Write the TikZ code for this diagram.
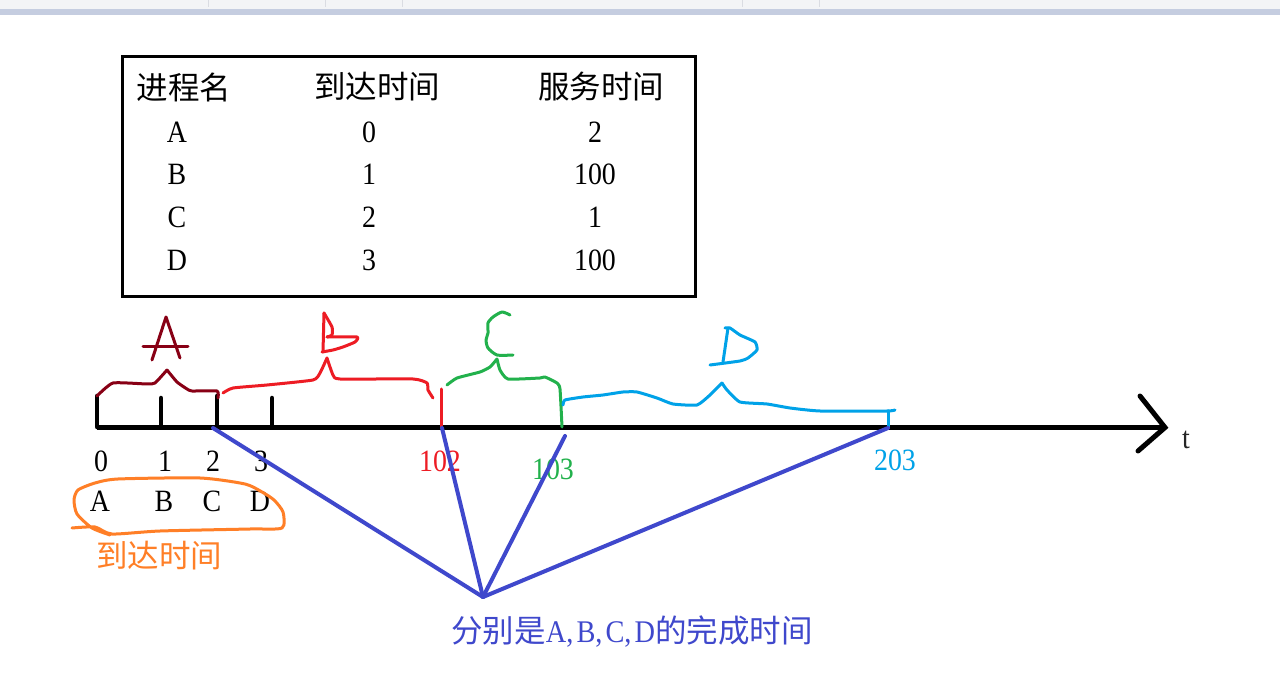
\documentclass[tikz,border=0pt]{standalone}
\usepackage{fontspec}
\newfontfamily\cjk{Noto Sans CJK SC}
\newfontfamily\lat[FakeStretch=0.9]{Liberation Serif}
\definecolor{topgray}{RGB}{243,244,246}
\definecolor{topblue}{RGB}{197,205,224}
\definecolor{sepgray}{RGB}{218,220,226}
\definecolor{darkred}{RGB}{136,0,21}
\definecolor{pred}{RGB}{237,28,36}
\definecolor{pgreen}{RGB}{34,177,76}
\definecolor{pblue}{RGB}{0,162,232}
\definecolor{porange}{RGB}{255,127,39}
\definecolor{indigo}{RGB}{63,72,204}
\tikzset{
  hand/.style={line width=3pt, line cap=round, line join=round},
  axtick/.style={line width=4.5pt, line cap=round},
  lab/.style={font=\lat\fontsize{31}{36}\selectfont, inner sep=0pt},
  cj/.style={font=\cjk\fontsize{31.5}{37}\selectfont, inner sep=0pt},
  done/.style={indigo, line width=4pt, line cap=round},
}
\begin{document}
\begin{tikzpicture}[x=1pt,y=-1pt]
\useasboundingbox (0,0) rectangle (1280,700);
\fill[white] (0,0) rectangle (1280,700);
% top window strip
\fill[topgray] (0,0) rectangle (1280,9);
\fill[topblue] (0,9) rectangle (1280,15);
\foreach \x in {208,325,402,742,819} \draw[sepgray, line width=1pt] (\x,0) -- (\x,7);

% table
\draw[line width=3pt] (122,57) rectangle (695,297);
\node[cj] (h1) at (184,87) {进程名};
\node[cj] (h2) at (377,87) {到达时间};
\node[cj] (h3) at (601,87) {服务时间};
\node[lab] (nA) at (177,132) {A};
\node[lab] (aA) at (369,132) {0};
\node[lab] (sA) at (595,132) {2};
\node[lab] (nB) at (177,174) {B};
\node[lab] (aB) at (369,174) {1};
\node[lab] (sB) at (595,174) {100};
\node[lab] (nC) at (177,217) {C};
\node[lab] (aC) at (369,217) {2};
\node[lab] (sC) at (595,217) {1};
\node[lab] (nD) at (177,260) {D};
\node[lab] (aD) at (369,260) {3};
\node[lab] (sD) at (595,260) {100};

% time axis
\coordinate (ax0) at (97,427.5);
\coordinate (axend) at (1165,427.5);
\draw[line width=5pt] (ax0) -- (axend);
\draw[line width=5pt, line cap=round] (1140,396) -- (axend) -- (1138,451);
\node[lab, text=black!85] (t) at (1186,440) {t};
\draw[axtick] (97,396) -- (97,427);
\draw[axtick] (161,398) -- (161,427);
\draw[axtick] (217,396) -- (217,427);
\draw[axtick] (272,398) -- (272,427);

% braces
\draw[hand, darkred] plot[smooth, tension=0.3] coordinates {(97,396) (113,383) (147,384) (155,383) (167,370)};
\draw[hand, darkred] plot[smooth, tension=0.3] coordinates {(167,370) (177,382) (187,389) (192,391) (217,391) (218,398)};
\draw[hand, darkred] (152,360) -- (166,317) -- (180,358);
\draw[hand, darkred] (143,347) -- (188,347);

\draw[hand, pred] plot[smooth, tension=0.3] coordinates {(223,393) (233,388) (267,385) (313,380) (320,373) (327,358)};
\draw[hand, pred] plot[smooth, tension=0.3] coordinates {(327,358) (333,375) (340,379) (413,379) (427,383) (428,390) (433,398)};
\draw[hand, pred] (324,313) -- (323,352);
\draw[hand, pred] plot[smooth, tension=0.3] coordinates {(324,313) (332,327) (332,335) (327,337)};
\draw[hand, pred] plot[smooth, tension=0.3] coordinates {(327,337) (357,337) (355,342) (343,347) (333,350) (322,352)};
\draw[hand, pred] (441,389) -- (441,427);

\draw[hand, pgreen] plot[smooth, tension=0.3] coordinates {(447,385) (457,378) (480,372) (490,367) (497,359)};
\draw[hand, pgreen] plot[smooth, tension=0.3] coordinates {(497,359) (500,370) (508,379) (540,378) (545,377) (557,383) (560,389) (562,427)};
\draw[hand, pgreen] plot[smooth, tension=0.4] coordinates {(510,315) (502,312) (493,317) (488,323) (488,333) (486,340) (488,348) (497,355) (513,355)};

\draw[hand, pblue] plot[smooth, tension=0.3] coordinates {(563,405) (565,400) (583,397) (603,395) (623,392) (637,392) (657,398) (673,404) (697,405) (710,395) (722,383)};
\draw[hand, pblue] plot[smooth, tension=0.3] coordinates {(722,383) (727,390) (740,402) (767,404) (790,408) (820,411) (887,411) (895,410)};
\draw[hand, pblue] (888,411) -- (888,427);
\draw[hand, pblue] (723,362) -- (728,328);
\draw[hand, pblue] plot[smooth, tension=0.3] coordinates {(725,328) (730,328) (740,335) (755,342) (757,350) (748,358) (740,361) (710,365)};

% axis labels
\node[lab] (l0) at (101,461) {0};
\node[lab] (l1) at (165,461) {1};
\node[lab] (l2) at (213,461) {2};
\node[lab] (l3) at (261,461) {3};
\node[lab] (pa) at (100,501) {A};
\node[lab] (pb) at (164,501) {B};
\node[lab] (pc) at (212,501) {C};
\node[lab] (pd) at (260,501) {D};
\node[lab, text=pred] (t102) at (440,461) {102};
\node[lab, text=pgreen] (t103) at (553,469) {103};
\node[lab, text=pblue] (t203) at (895,460) {203};

% orange loop
\draw[hand, porange] plot[smooth, tension=0.4] coordinates {(72,528) (95,527) (112,534) (160,531) (250,529) (282,528) (283,512) (274,500) (262,492) (245,484) (200,478) (118,479) (95,483) (78,490) (74,500) (77,514) (92,528) (110,535)};
\node[cj, text=porange] (arr) at (159,556) {到达时间};

% completion connectors
\coordinate (conv) at (483,597);
\coordinate (fA) at (213,428);
\coordinate (fB) at (442,428);
\coordinate (fC) at (565,436);
\coordinate (fD) at (888,428);
\draw[done] (fA) -- (conv);
\draw[done] (fB) -- (conv);
\draw[done] (fC) -- (conv);
\draw[done] (fD) -- (conv);
\node[cj, text=indigo] (note) at (632,632) {分别是{\lat A,\kern3pt B,\kern3pt C,\kern3pt D}的完成时间};
\end{tikzpicture}
\end{document}
